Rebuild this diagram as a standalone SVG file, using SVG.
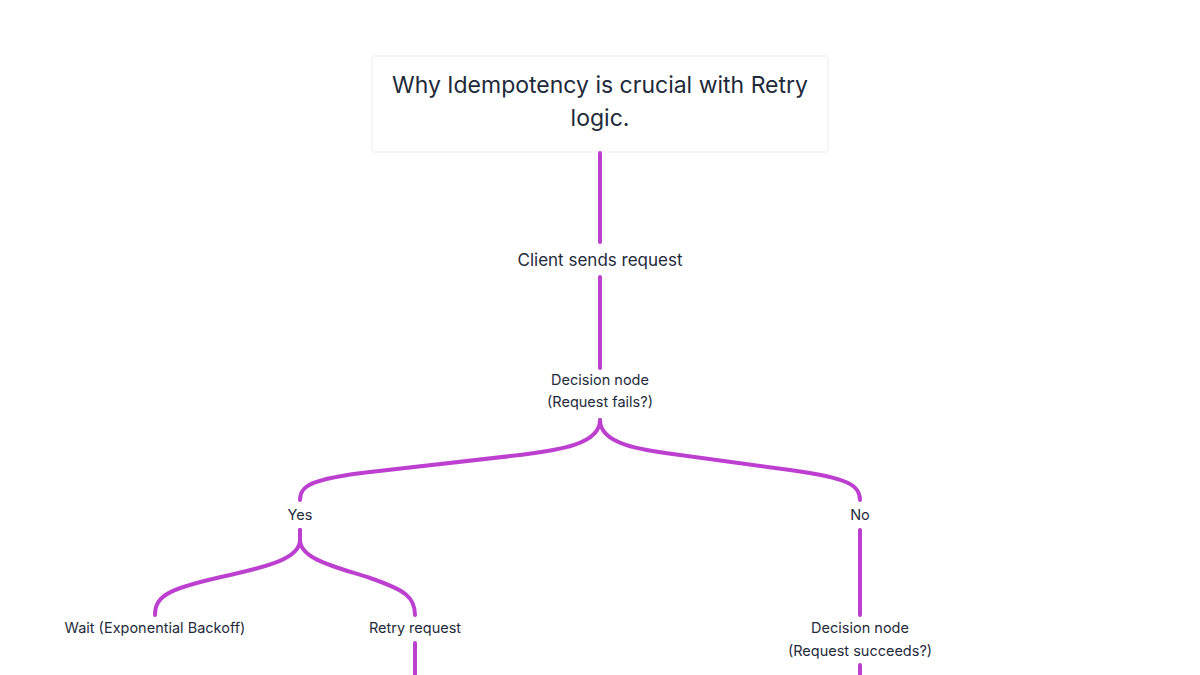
<svg xmlns="http://www.w3.org/2000/svg" width="1200" height="675" viewBox="0 0 1200 675">
<style>
text{font-family:Inter,"Noto Sans",sans-serif;fill:#1e2a3a;text-anchor:middle}
.c{fill:none;stroke:#bd3fd0;stroke-width:4;stroke-linecap:round}
.t{font-size:23px}
.m{font-size:17px}
.s{font-size:14.5px}
</style>
<rect width="1200" height="675" fill="#fff"/>
<g id="title">
<rect x="372" y="56" width="456" height="96" fill="#fff" stroke="#f4f4f6" stroke-width="1.5" rx="3"/>
<text class="t" x="600" y="93">Why Idempotency is crucial with Retry</text>
<text class="t" x="600" y="126">logic.</text>
</g>
<g id="connectors">
<path class="c" d="M600,153 V242"/>
<path class="c" d="M600,277 V368"/>
<path class="c" d="M600,420 C600,444 560,450 520,455 L370,472 C310,479 300,486 300,500"/>
<path class="c" d="M600,420 C600,444 640,450 680,455 L790,470 C850,478 860,486 860,500"/>
<path class="c" d="M300,530 V540 C300,560 260,568 230,575 C170,588 155,595 155,615"/>
<path class="c" d="M300,530 V540 C300,560 340,568 370,578 C405,590 415,597 415,615"/>
<path class="c" d="M415,643 V678"/>
<path class="c" d="M860,530 V615"/>
<path class="c" d="M860,665 V678"/>
</g>
<g id="client"><text class="m" x="600" y="266">Client sends request</text></g>
<g id="decision1"><text class="s" x="600" y="385">Decision node</text><text class="s" x="600" y="407">(Request fails?)</text></g>
<g id="yes"><text class="s" x="300" y="520">Yes</text></g>
<g id="no"><text class="s" x="860" y="520">No</text></g>
<g id="wait"><text class="s" x="155" y="633">Wait (Exponential Backoff)</text></g>
<g id="retry"><text class="s" x="415" y="633">Retry request</text></g>
<g id="decision2"><text class="s" x="860" y="633">Decision node</text><text class="s" x="860" y="656">(Request succeeds?)</text></g>
</svg>
